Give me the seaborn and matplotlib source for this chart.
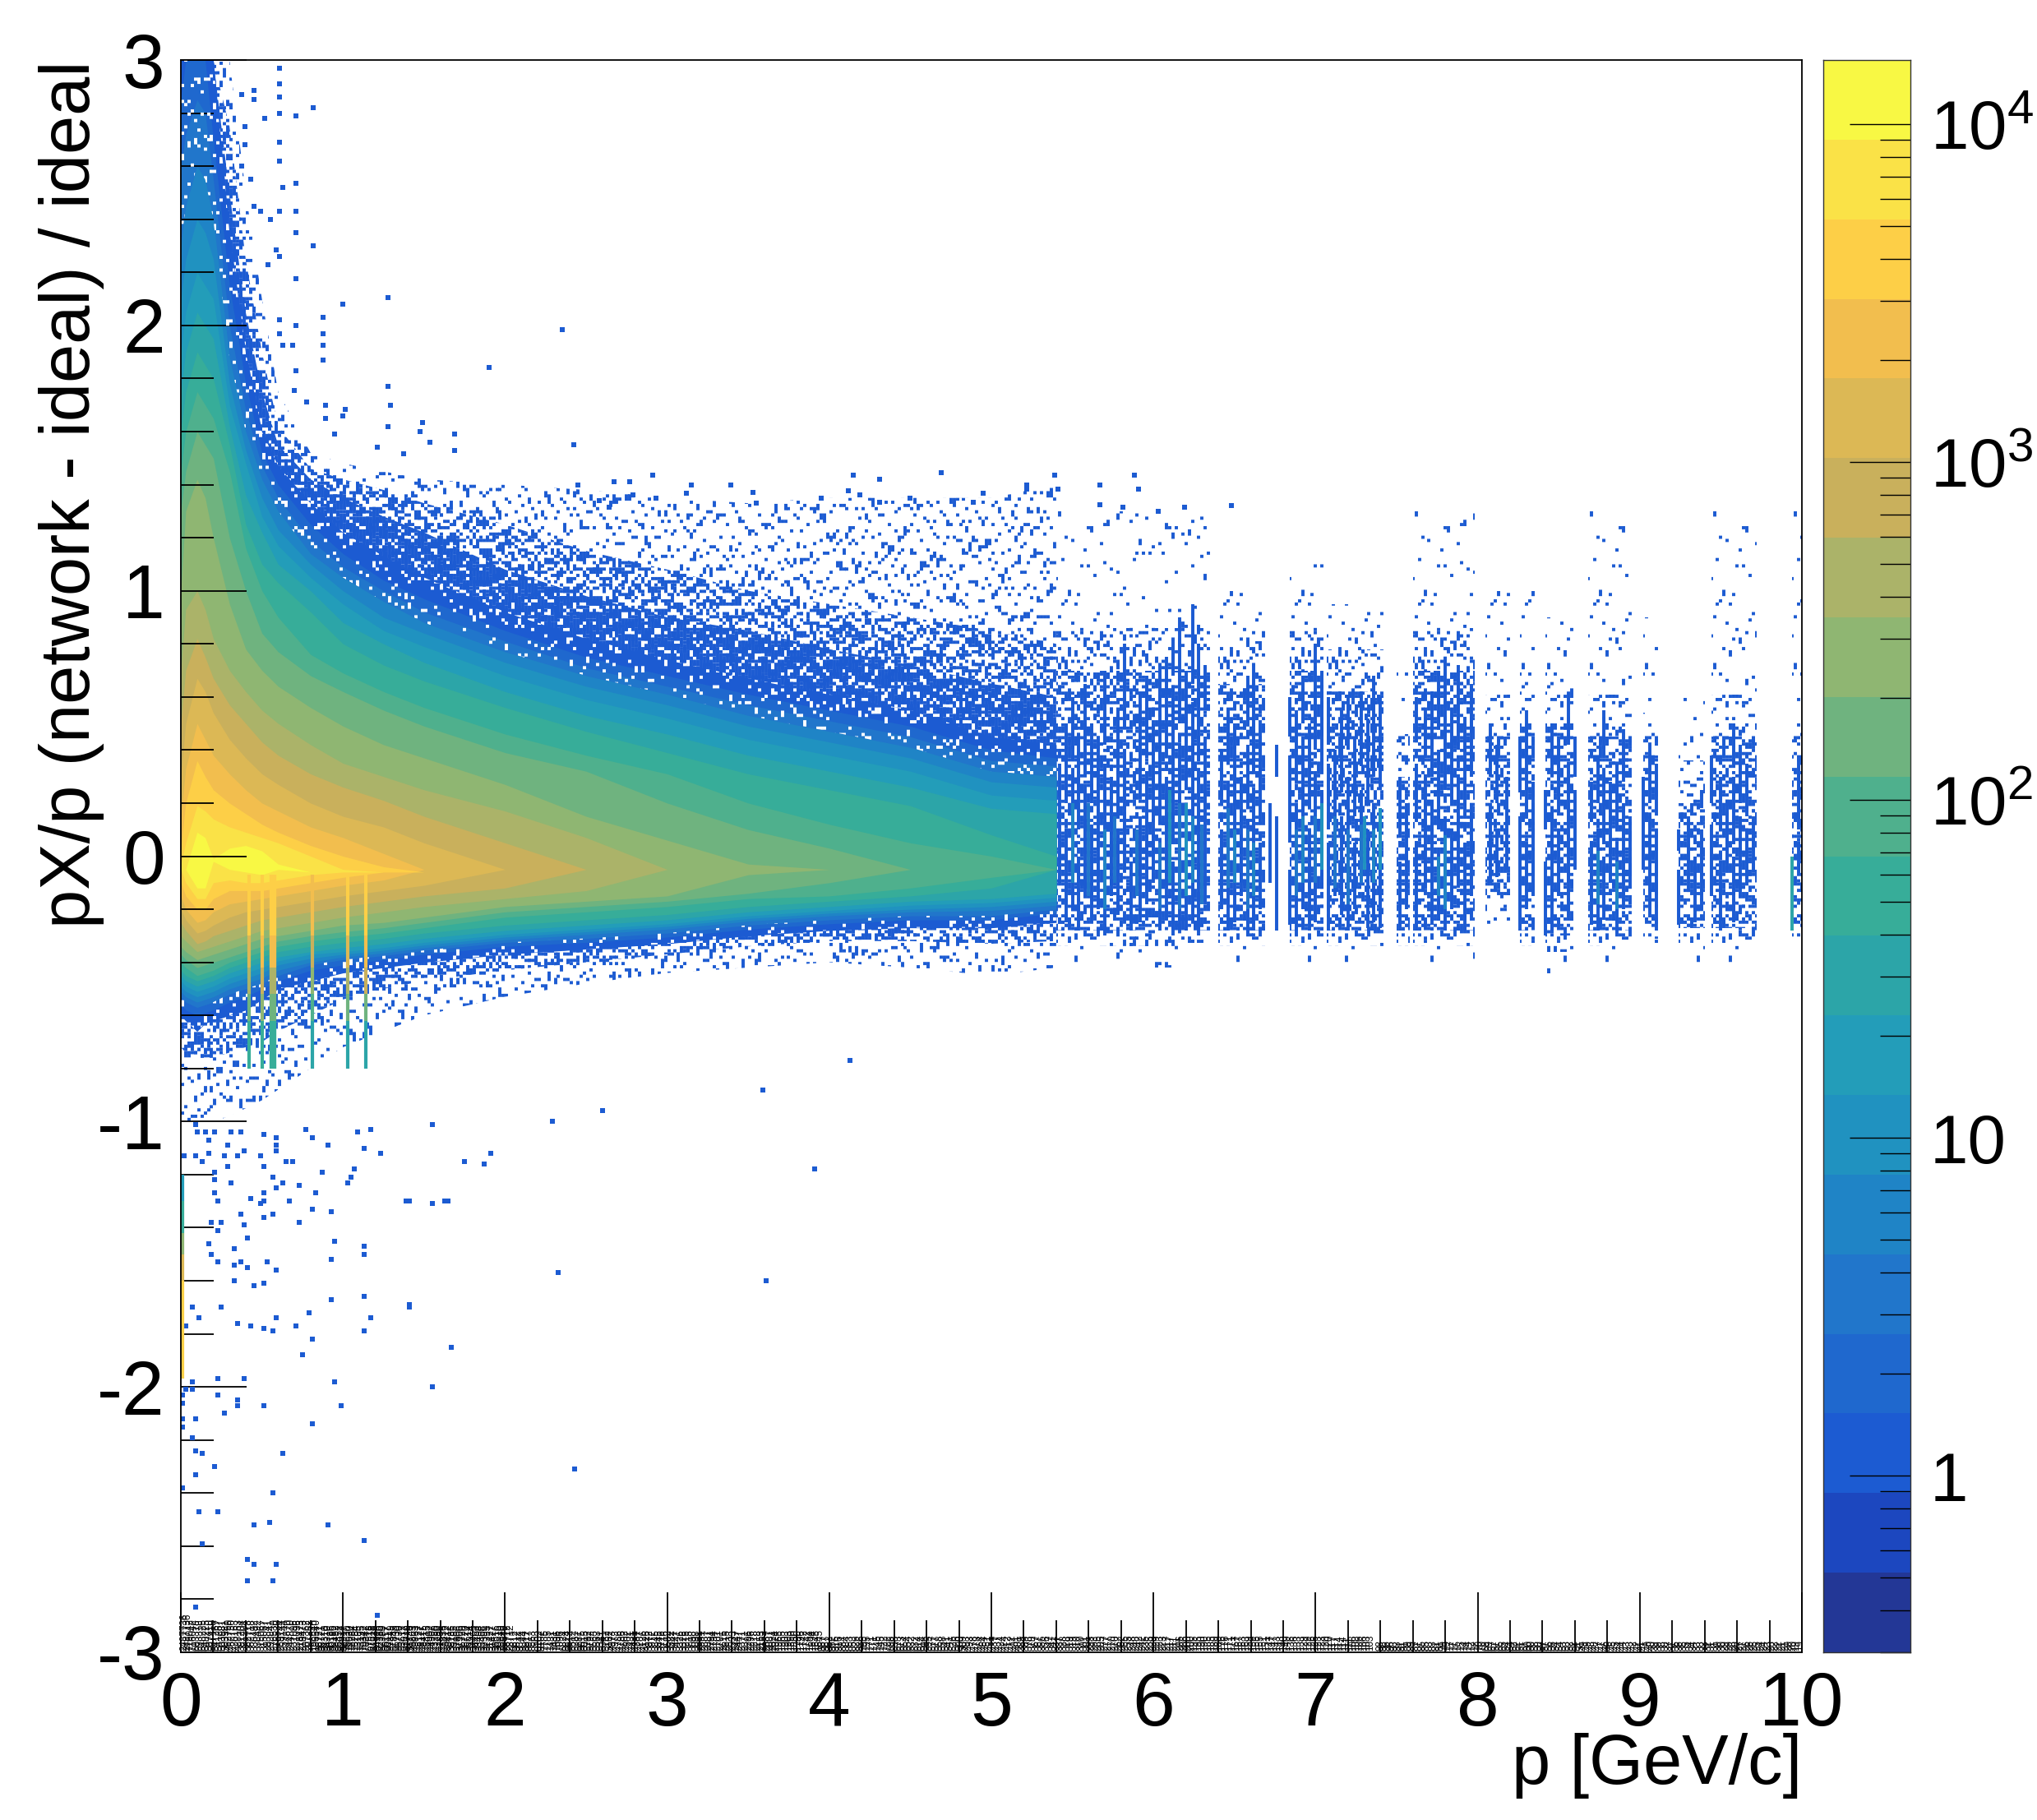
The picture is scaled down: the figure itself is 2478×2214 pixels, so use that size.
import numpy as np
import seaborn as sns
import matplotlib
matplotlib.use("Agg")
import matplotlib.pyplot as plt
from matplotlib.colors import ListedColormap

sns.set_theme(style="white")
plt.rcParams['font.family'] = ['Liberation Sans', 'DejaVu Sans']
plt.rcParams['mathtext.fontset'] = 'custom'
plt.rcParams['mathtext.rm'] = 'Liberation Sans'
plt.rcParams['lines.scale_dashes'] = False

band_colors = ['#233796', '#1C47BF', '#1C5BD2', '#1F68CE', '#2176CB', '#1F84C6', '#2092C0', '#239DB9', '#2CA5A8',
               '#37AD99', '#4FB08D', '#6FB37F', '#8FB672', '#ABB369', '#C9B05C', '#DCB855', '#F2BE4E', '#FDCF47',
               '#FAE247', '#F8F844']
palette = sns.color_palette(band_colors)

p_knots = [0, .03, .1, .15, .2, .3, .4, .5, .6, .8, 1, 1.25, 1.5, 2, 2.5, 3, 3.5, 4, 4.5, 5, 5.4]

# thinning fringe around the solid region, from dense to sparse
fringe_top_1 = [3, 3, 3, 3, 3, 2.5, 2.05, 1.75, 1.55, 1.42, 1.35, 1.28, 1.22, 1.08, .98, .9, .85, .78, .72, .65, .6]
fringe_top_2 = [3, 3, 3, 3, 3, 2.75, 2.25, 1.9, 1.62, 1.46, 1.42, 1.38, 1.33, 1.25, 1.15, 1.08, 1.0, .95, .9, .85, .8]
fringe_top_3 = [3, 3, 3, 3, 3, 3, 2.5, 2.1, 1.75, 1.52, 1.48, 1.45, 1.42, 1.4, 1.38, 1.35, 1.33, 1.35, 1.35, 1.35, 1.4]
fringe_low_1 = [-.72, -.74, -.76, -.76, -.76, -.74, -.72, -.7, -.66, -.6, -.54, -.5, -.47, -.43, -.4, -.37, -.34, -.32, -.32, -.33, -.32]
fringe_low_2 = [-1.0, -1.0, -1.0, -1.0, -1.0, -.98, -.95, -.92, -.88, -.8, -.72, -.66, -.6, -.53, -.48, -.44, -.42, -.4, -.42, -.45, -.42]

# clusters of sparsely filled columns at high p
cluster_from = [5.4, 6.4, 6.84, 7.07, 7.5, 7.6, 8.05, 8.26, 8.42, 8.68, 9.02, 9.24, 9.44, 9.94]
cluster_to = [6.35, 6.7, 7.05, 7.43, 7.58, 7.98, 8.2, 8.36, 8.6, 8.95, 9.12, 9.4, 9.72, 10]
cluster_hi = [.7, .65, .7, .62, .3, .7, .45, .5, .5, .45, .38, .2, .45, .35]
cluster_lo = [-.28, -.28, -.28, -.28, -.28, -.28, -.15, -.28, -.3, -.28, -.25, -.27, -.27, -.25]
cluster_far_hi = [1.3, 1.0, 1.1, .95, .7, 1.3, 1.0, 1.0, .9, 1.3, .9, .6, 1.3, 1.3]

top_b2 = [3, 3, 3, 3, 3, 2.35, 1.9, 1.6, 1.47, 1.33, 1.22, 1.13, 1.05, .92, .82, .74, .67, .61, .55, .45, .42]
low_b2 = [-.6, -.62, -.66, -.63, -.62, -.6, -.58, -.54, -.5, -.47, -.44, -.42, -.4, -.37, -.35, -.33, -.3, -.28, -.27, -.27, -.25]
top_b3 = [2.85, 3, 3, 3, 2.7, 2.15, 1.78, 1.52, 1.4, 1.25, 1.14, 1.04, .97, .85, .75, .68, .61, .55, .49, .4, .37]
low_b3 = [-.56, -.58, -.6, -.59, -.58, -.55, -.53, -.5, -.47, -.43, -.41, -.39, -.37, -.34, -.325, -.305, -.275, -.255, -.24, -.24, -.215]
top_b4 = [2.6, 2.72, 2.85, 2.8, 2.55, 2.0, 1.68, 1.47, 1.35, 1.19, 1.09, 1.0, .92, .81, .71, .64, .57, .51, .45, .36, .34]
low_b4 = [-.53, -.55, -.57, -.56, -.55, -.52, -.5, -.48, -.45, -.41, -.39, -.375, -.355, -.325, -.31, -.29, -.26, -.24, -.225, -.225, -.2]
top_b5 = [2.3, 2.45, 2.6, 2.55, 2.4, 1.88, 1.6, 1.42, 1.3, 1.14, 1.05, .96, .88, .77, .68, .61, .53, .47, .41, .32, .3]
low_b5 = [-.51, -.53, -.55, -.54, -.53, -.5, -.48, -.46, -.43, -.4, -.38, -.365, -.345, -.315, -.295, -.275, -.245, -.225, -.21, -.205, -.185]
top_b6 = [2.1, 2.25, 2.4, 2.35, 2.25, 1.78, 1.53, 1.35, 1.23, 1.1, 1.0, .9, .84, .73, .64, .57, .49, .43, .37, .28, .26]
low_b6 = [-.49, -.51, -.53, -.52, -.51, -.48, -.46, -.44, -.41, -.385, -.37, -.355, -.335, -.305, -.285, -.265, -.235, -.215, -.2, -.19, -.17]
top_b7 = [1.9, 2.05, 2.2, 2.15, 2.1, 1.7, 1.48, 1.28, 1.17, 1.05, .95, .85, .79, .68, .59, .52, .44, .38, .32, .23, .21]
low_b7 = [-.47, -.49, -.51, -.5, -.49, -.46, -.44, -.42, -.395, -.37, -.36, -.345, -.325, -.295, -.275, -.255, -.225, -.205, -.185, -.175, -.155]
top_b8 = [1.75, 1.9, 2.05, 2.0, 1.95, 1.62, 1.36, 1.22, 1.1, 1.0, .88, .8, .73, .62, .53, .46, .38, .32, .26, .18, .16]
low_b8 = [-.45, -.47, -.49, -.48, -.47, -.44, -.42, -.4, -.38, -.36, -.345, -.33, -.31, -.28, -.26, -.24, -.21, -.19, -.17, -.16, -.14]
top_b9 = [1.6, 1.75, 1.9, 1.85, 1.8, 1.55, 1.25, 1.1, 1.03, .92, .8, .72, .66, .56, .47, .39, .31, .25, .19, .08, .0]
low_b9 = [-.43, -.45, -.47, -.46, -.45, -.42, -.4, -.38, -.36, -.34, -.325, -.31, -.29, -.26, -.24, -.22, -.19, -.17, -.15, -.12, -.05]
top_b10 = [1.45, 1.6, 1.75, 1.7, 1.65, 1.45, 1.16, 1.0, .9, .76, .69, .62, .56, .46, .38, .31, .2, .12, .05, .0, -.05]
low_b10 = [-.4, -.42, -.45, -.44, -.43, -.4, -.38, -.36, -.34, -.32, -.305, -.29, -.27, -.23, -.21, -.19, -.16, -.15, -.12, -.08, -.05]
top_b11 = [1.3, 1.45, 1.6, 1.55, 1.5, 1.2, 1.0, .84, .77, .68, .62, .55, .49, .39, .32, .2, .1, .03, -.05, -.05, -.05]
low_b11 = [-.37, -.39, -.42, -.41, -.4, -.38, -.36, -.34, -.32, -.3, -.285, -.27, -.25, -.21, -.19, -.17, -.14, -.1, -.05, -.05, -.05]
top_b12 = [1.0, 1.3, 1.42, 1.35, 1.2, .95, .78, .7, .64, .56, .49, .42, .37, .27, .15, .06, -.03, -.05, -.05, -.05, -.05]
low_b12 = [-.34, -.36, -.39, -.38, -.37, -.35, -.33, -.31, -.3, -.28, -.26, -.25, -.23, -.19, -.17, -.15, -.07, -.05, -.05, -.05, -.05]
top_b13 = [.7, .93, 1.0, .93, .82, .7, .62, .55, .5, .42, .35, .3, .25, .17, .07, -.05, -.05, -.05, -.05, -.05, -.05]
low_b13 = [-.3, -.32, -.36, -.35, -.34, -.32, -.3, -.28, -.27, -.25, -.23, -.21, -.19, -.16, -.13, -.05, -.05, -.05, -.05, -.05, -.05]
top_b14 = [.5, .7, .82, .75, .67, .57, .5, .43, .38, .31, .26, .21, .15, .05, -.05, -.05, -.05, -.05, -.05, -.05, -.05]
low_b14 = [-.25, -.28, -.33, -.32, -.3, -.28, -.26, -.24, -.23, -.21, -.19, -.17, -.15, -.12, -.05, -.05, -.05, -.05, -.05, -.05, -.05]
top_b15 = [.3, .5, .67, .62, .54, .44, .37, .31, .27, .2, .15, .11, .05, -.05, -.05, -.05, -.05, -.05, -.05, -.05, -.05]
low_b15 = [-.2, -.24, -.29, -.28, -.26, -.23, -.21, -.2, -.19, -.17, -.15, -.13, -.11, -.05, -.05, -.05, -.05, -.05, -.05, -.05, -.05]
top_b16 = [.15, .33, .5, .44, .38, .31, .25, .2, .17, .11, .07, .01, -.05, -.05, -.05, -.05, -.05, -.05, -.05, -.05, -.05]
low_b16 = [-.15, -.2, -.25, -.24, -.21, -.18, -.17, -.16, -.15, -.13, -.11, -.09, -.05, -.05, -.05, -.05, -.05, -.05, -.05, -.05, -.05]
top_b17 = [.03, .2, .36, .3, .25, .2, .16, .12, .09, .04, .0, -.04, -.06, -.06, -.06, -.06, -.06, -.06, -.06, -.06, -.06]
low_b17 = [-.1, -.15, -.2, -.2, -.16, -.13, -.13, -.13, -.12, -.1, -.08, -.06, -.06, -.06, -.06, -.06, -.06, -.06, -.06, -.06, -.06]
top_b18 = [-.03, .05, .19, .17, .14, .11, .09, .07, .05, .0, -.05, -.06, -.06, -.06, -.06, -.06, -.06, -.06, -.06, -.06, -.06]
low_b18 = [-.05, -.1, -.16, -.16, -.1, -.09, -.1, -.1, -.09, -.07, -.06, -.06, -.06, -.06, -.06, -.06, -.06, -.06, -.06, -.06, -.06]
top_b19 = [-.05, -.05, .09, .07, -.01, .03, .04, .02, -.03, -.06, -.06, -.06, -.06, -.06, -.06, -.06, -.06, -.06, -.06, -.06, -.06]
low_b19 = [-.05, -.05, -.12, -.12, -.02, -.05, -.06, -.07, -.05, -.06, -.06, -.06, -.06, -.06, -.06, -.06, -.06, -.06, -.06, -.06, -.06]

band_tops = [top_b2, top_b3, top_b4, top_b5, top_b6, top_b7, top_b8, top_b9, top_b10, top_b11, top_b12, top_b13,
             top_b14, top_b15, top_b16, top_b17, top_b18, top_b19]
band_lows = [low_b2, low_b3, low_b4, low_b5, low_b6, low_b7, low_b8, low_b9, low_b10, low_b11, low_b12, low_b13,
             low_b14, low_b15, low_b16, low_b17, low_b18, low_b19]

# isolated single-count cells
single_p = [.61, .61, .45, .375, .45, .61, .815, .61, .71, .515, .395, .61, .395, .61, .71, .63, .43, .375, .45, .61, .71, .49, .555, .71,
            .815, .59, .61, .535, .71, 1.28, 1.0, .875, .61, .71, 2.355, .875, .61, .875, .69, .63, .875, 1.9, .71, 1.28, .7, .775,
            .895, 1.295, 1.015, 1.0, .895, 1.49, 1.28, 1.475, 1.69, .95, 1.535, 2.425, 1.21, 1.69, 1.375,
            2.67, 2.91, 2.77, 3.15, 3.39, 4.15, 4.31, 4.69, 5.22, 5.39, 5.88, 5.67, 2.45, 2.58, 2.64, 2.79, 2.93, 3.12, 3.53, 3.55, 3.95,
            4.12, 4.19, 4.31, 4.5, 4.95, 4.89, 5.22, 5.41, 5.67, 5.91, 6.19, 5.81, 6.03, 6.48]
single_y = [2.97, 2.91, 2.885, 2.87, 2.85, 2.86, 2.82, 2.8, 2.79, 2.78, 2.75, 2.69, 2.68, 2.62, 2.535, 2.52, 2.55, 2.6, 2.45, 2.43, 2.43, 2.43, 2.4, 2.35,
            2.3, 2.285, 2.26, 2.23, 2.175, 2.105, 2.08, 2.03, 2.02, 2.0, 1.985, 1.97, 1.97, 1.925, 1.925, 1.925, 1.87, 1.84, 1.83, 1.77, 1.755, 1.71,
            1.7, 1.7, 1.685, 1.66, 1.65, 1.635, 1.62, 1.6, 1.59, 1.59, 1.56, 1.55, 1.54, 1.53, 1.515,
            1.41, 1.436, 1.41, 1.4, 1.4, 1.436, 1.42, 1.446, 1.4, 1.436, 1.436, 1.4, 1.4, 1.34, 1.315, 1.36, 1.35, 1.367, 1.37, 1.33, 1.35,
            1.377, 1.36, 1.335, 1.35, 1.367, 1.335, 1.384, 1.384, 1.325, 1.384, 1.315, 1.315, 1.3, 1.32]
low_single_p = [.09, .10, .15, .21, .31, .37, .51, .59, .77, .81, .91, 1.13, 1.23, 1.09, 1.17, 1.55, .17, .29, .59, .59, .39, .17, .02, .09, .13, .27, .35, .49,
                .65, .69, .29, .51, 1.75, 1.87, 1.91, 1.07, .87, 1.05, .57, .21, .21, .31, .63, 1.03, .59, .73, .83, .51, .21, .43, .23, .51, .49, .67,
                1.39, 1.55, 1.63, .81, .93, .37, .57, .51, .73, .25, .19, .39, .23, .41, .95, .17, .33, 1.13, 1.13, .19, .93, .23, .37, .53, .33, .41, .59,
                .33, .51, .45, 1.13, .93, .07, .25, 1.41, .79, .11, .59, 1.17, .35, .03, .43, .71, .51, .57, 1.13, .81, 1.67, .75, .23, .39, .07, .95,
                1.55, .03, .07, .01, .23, .35, .35, .51, .99, .01, .27, .01, .09, .81, .01, .07, .09, .13, .63, .21, .09, .01, .57, .11, .23, .45, .55,
                .91, 1.13, .13, .41, .45, .59, .41, .57, .09, 1.21, 2.33, 3.61, 2.43, 3.91, 3.59, 2.6, 4.13, 2.29, 1.41, 1.65, 1.55, 1.67, 1.41]
low_single_y = [-1.01, -1.04, -1.04, -1.04, -1.04, -1.04, -1.05, -1.06, -1.03, -1.06, -1.09, -1.10, -1.12, -1.04, -1.03, -1.01, -1.07, -1.09, -1.09, -1.11, -1.11, -1.12, -1.13, -1.13, -1.15, -1.13, -1.13, -1.13,
                -1.15, -1.15, -1.17, -1.17, -1.15, -1.16, -1.12, -1.18, -1.19, -1.21, -1.21, -1.19, -1.22, -1.23, -1.23, -1.23, -1.25, -1.24, -1.27, -1.27, -1.27, -1.29, -1.30, -1.30, -1.31, -1.30,
                -1.30, -1.31, -1.30, -1.33, -1.34, -1.35, -1.35, -1.36, -1.38, -1.38, -1.38, -1.39, -1.41, -1.44, -1.45, -1.46, -1.48, -1.47, -1.50, -1.50, -1.52, -1.53, -1.53, -1.53, -1.54, -1.55, -1.56,
                -1.60, -1.61, -1.62, -1.66, -1.67, -1.70, -1.70, -1.70, -1.72, -1.74, -1.74, -1.74, -1.76, -1.77, -1.77, -1.77, -1.78, -1.79, -1.79, -1.82, -1.85, -1.88, -1.97, -1.97, -1.98, -1.98,
                -2.0, -2.01, -2.01, -2.03, -2.03, -2.05, -2.07, -2.07, -2.07, -2.06, -2.10, -2.12, -2.12, -2.14, -2.15, -2.19, -2.24, -2.25, -2.25, -2.30, -2.33, -2.38, -2.40, -2.47, -2.47, -2.52, -2.51,
                -2.52, -2.58, -2.59, -2.65, -2.67, -2.67, -2.73, -2.73, -2.83, -2.86, -1.57, -1.6, -2.31, -1.18, -.88, -.96, -.77, -1.0, -1.3, -1.3, -2.0, -1.85, -1.69]

# the broken vertical columns at high p
strip_p = [5.42, 5.46, 5.46, 5.5, 5.5, 5.54, 5.54, 5.58, 5.58, 5.62, 5.62, 5.66, 5.7, 5.7, 5.7, 5.74, 5.78, 5.78, 5.82, 5.82, 5.86, 5.92, 5.92,
           5.96, 5.96, 6.0, 6.04, 6.04, 6.08, 6.08, 6.12, 6.12, 6.12, 6.16, 6.16, 6.2, 6.2, 6.24, 6.24, 6.24, 6.28, 6.28, 6.32, 6.32,
           6.42, 6.42, 6.46, 6.46, 6.5, 6.5, 6.54, 6.58, 6.58, 6.58, 6.62, 6.62, 6.66, 6.66, 6.72, 6.76, 6.76,
           6.84, 6.84, 6.84, 6.88, 6.88, 6.92, 6.92, 6.96, 6.96, 7.0, 7.0, 7.04, 7.04,
           7.08, 7.08, 7.08, 7.12, 7.16, 7.16, 7.2, 7.2, 7.24, 7.24, 7.28, 7.28, 7.32, 7.32, 7.36, 7.36, 7.4, 7.4,
           7.52, 7.52, 7.56, 7.62, 7.62, 7.62, 7.68, 7.68, 7.72, 7.72, 7.76, 7.76, 7.76, 7.8, 7.8, 7.84, 7.84, 7.88, 7.88, 7.92, 7.92, 7.96, 7.96,
           8.08, 8.08, 8.12, 8.12, 8.18, 8.26, 8.26, 8.3, 8.3, 8.34, 8.42, 8.42, 8.46, 8.46, 8.5, 8.5, 8.56, 8.56, 8.6, 8.6,
           8.7, 8.7, 8.74, 8.74, 8.78, 8.78, 8.78, 8.82, 8.86, 8.86, 8.9, 8.9, 8.94, 9.02, 9.06, 9.06, 9.1, 9.1,
           9.24, 9.24, 9.3, 9.34, 9.38, 9.38, 9.44, 9.44, 9.5, 9.5, 9.54, 9.58, 9.58, 9.58, 9.62, 9.62, 9.66, 9.66, 9.7, 9.98, 9.98]
strip_lo = [-.1, -.25, .2, -.2, .36, -.28, .1, -.15, .3, -.25, .2, -.2, -.3, .05, .42, -.15, -.22, .15, -.05, .48, -.28, -.25, .22,
            -.18, .4, -.1, -.28, .12, -.24, .38, -.3, .08, .68, -.26, .5, -.28, .25, -.22, .12, .65, -.3, .36, -.18, .55,
            -.2, .2, -.28, .35, -.25, .1, -.15, -.3, .18, .5, -.28, .32, -.2, .12, -.1, -.28, .3,
            -.26, .05, .45, -.3, .28, -.2, .5, -.28, .18, -.25, .4, -.12, .32,
            -.28, .1, .42, -.15, -.22, .24, -.28, .4, -.2, .15, -.1, .34, -.27, .2, -.25, .3, -.27, .25,
            -.28, .08, -.2, -.28, .15, .45, -.12, .4, -.26, .3, -.22, .1, .48, -.28, .25, -.2, .2, -.12, .4, -.28, .14, -.15, .3,
            -.1, .3, -.08, .2, -.05, -.28, .24, -.2, .15, -.15, -.3, .1, -.28, .3, -.15, .2, -.22, .42, -.05, .3,
            -.26, .15, -.28, .2, -.24, .08, .38, -.1, -.28, .12, -.2, .28, -.12, -.05, -.22, .2, -.28, .2,
            -.26, .02, -.1, -.25, -.2, .18, -.15, .2, -.28, .1, -.05, -.25, .05, .35, -.15, .2, -.1, .15, -.06, -.05, .1]
strip_hi = [.35, .1, .5, .3, .6, .0, .45, .25, .65, .12, .5, .42, -.05, .35, .7, .3, .1, .55, .4, .8, -.02, .15, .6,
            .32, .68, .5, .05, .72, .3, .75, -.02, .62, .82, .42, .9, .18, .7, .05, .58, .95, .3, .8, .45, .72,
            .1, .4, .28, .55, .0, .5, .3, .1, .42, .68, .25, .72, .05, .5, .2, .15, .42,
            -.05, .38, .6, .2, .55, .4, .68, .1, .5, .32, .8, .25, .7,
            .05, .35, .6, .4, .15, .55, .3, .6, .05, .45, .25, .62, .1, .52, .2, .68, .18, .6,
            -.02, .3, .2, .05, .35, .6, .3, .55, .2, .62, .0, .4, .7, .15, .75, .1, .55, .3, .72, .05, .52, .2, .65,
            .2, .5, .1, .42, .3, .15, .45, .05, .55, .28, -.02, .25, .18, .5, .1, .42, .35, .6, .25, .45,
            .05, .28, .1, .38, .0, .3, .55, .28, .05, .35, .2, .48, .15, .3, .15, .42, .1, .35,
            -.05, .1, .15, .0, .1, .25, .12, .38, -.02, .3, .2, .0, .3, .5, .15, .42, .1, .35, .15, .05, .38]
core_p = [5.5, 5.7, 6.1, 6.2, 6.24, 6.5, 6.62, 6.92, 7.04, 7.3, 7.36, 7.4, 7.76, 7.8, 8.74, 8.86, 9.94, 5.6, 5.76, 5.9, 6.04, 6.16, 6.3, 6.46, 6.58, 6.88, 7.0, 7.12, 7.2, 7.28]
core_lo = [-.1, -.2, -.1, -.15, -.1, -.1, -.15, -.1, -.05, -.05, -.1, -.05, -.15, -.2, -.18, -.2, -.28, -.15, -.1, -.15, -.2, -.2, -.18, -.12, -.2, -.15, -.1, -.12, -.18, -.1]
core_hi = [.2, .1, .25, .2, .15, .1, .05, .15, .2, .15, .1, .18, .0, .08, .02, -.02, .0, .2, .15, .1, .05, .2, .12, .18, .1, .1, .15, .15, .1, .12]
core_band = [5, 5, 6, 6, 5, 5, 5, 5, 6, 6, 5, 6, 5, 5, 5, 5, 8, 4, 4, 4, 4, 4, 4, 4, 4, 4, 4, 4, 4, 4]

# overfull single columns below the ridge: x, y breakpoints, colour band of each piece
spike_p = [.42, .50, .57, .81, 1.03, 1.14]
spike_w = [1, 1, 2, 1, 1, 1]
spike_edges = [-.07, -.3, -.42, -.52, -.62, -.8]
spike_bands = [[17, 15, 13, 11, 9], [17, 16, 14, 12, 9], [17, 16, 13, 11, 9], [16, 14, 12, 10, 8], [17, 15, 13, 11, 8], [17, 16, 14, 11, 8]]
edge_y = [-1.2, -1.3, -1.42, -1.5, -1.6, -1.97]
edge_bands = [7, 9, 12, 15, 17]

# digits printed in the lowest row of cells
text_6 = "2487736 716042 693318 648225 597410 541267 503981 462750 428163 391204 362718 338492 315067 293841 276530 259144 244870 231096 218473 207362 196540".split()
text_5 = ("98721 94310 90186 86452 82917 79630 76284 73195 70342 67518 64926 62380 60117 57849 55730 53612 51740 49863 48127 46415 44902 43280 41836 "
          "40412 39185 37906 36720 35514 34463 33408 32395 31427 30516 29640 28712").split()
text_4 = ("9812 9344 8917 8563 8102 7785 7431 7096 6824 6512 6287 6015 5792 5563 5341 5162 4973 4786 4602 4431 4287 4126 3972 3845 3716 3582 3447 3326 3215 3098 "
          "2991 2887 2794 2701 2615 2533 2447 2371 2296 2218 2153 2087 2024 1965 1903 1850 1796 1742 1694 1645").split()
text_3 = ("987 952 916 884 853 826 795 771 745 722 698 673 654 632 614 595 577 558 541 526 509 493 478 464 451 437 424 412 401 389 378 367 356 347 337 328 319 310 "
          "301 293 285 277 270 262 255 248 242 235 229 223 217 211 206 200 195 190 185 180 176 171 167 163 159 155 151 147 143 140 136 133 129 126 123 120 117 114 "
          "111 108 106 103").split()
text_2 = "98 96 93 91 89 87 85 83 81 79 77 75 74 72 70 69 67 65 64 62 61 60 58 57 56 54 53 52 51 49 48 47 46 45 44 43 42 41 40 39 38 37 36 35 34 33 32 31 30 29 28 27 26 25 24 23 22 21 20 19".split()

x_ticks = [0, 1, 2, 3, 4, 5, 6, 7, 8, 9, 10]
y_ticks = [-3, -2, -1, 0, 1, 2, 3]
x_title = "p [GeV/c]"
y_title = "pX/p (network - ideal) / ideal"

# line styles for the speckled cells, in units of one cell height
dense = [[3, 1, 2, 1, 5, 2, 1, 1, 4, 1], [2, 1, 4, 2, 1, 1, 6, 1, 2, 2], [5, 1, 1, 2, 3, 1, 2, 1, 3, 3], [1, 1, 3, 1, 7, 2, 2, 1, 4, 1], [4, 2, 2, 1, 1, 1, 5, 1, 3, 2]]
mid = [[1, 2, 2, 1, 1, 3, 1, 1, 3, 2, 1, 3], [2, 3, 1, 1, 1, 4, 3, 2, 1, 2], [1, 1, 1, 3, 2, 2, 1, 4, 2, 1], [3, 2, 1, 3, 1, 1, 2, 4, 1, 2], [1, 3, 2, 2, 1, 2, 4, 3]]
sparse = [[1, 5, 1, 9, 2, 7, 1, 4, 1, 8], [2, 8, 1, 6, 1, 11, 1, 3], [1, 3, 1, 12, 1, 6, 2, 5], [1, 9, 3, 6, 1, 10], [1, 7, 1, 4, 2, 13]]
rare = [[1, 17, 1, 25, 1, 11], [1, 31, 2, 14], [1, 13, 1, 29], [1, 22, 1, 19, 1, 33], [2, 27, 1, 16]]
pits = [[1, 9, 1, 4, 1, 14, 2, 6], [1, 6, 1, 13, 1, 5, 1, 21], [1, 11, 2, 8, 1, 3, 1, 17], [1, 16, 1, 7, 1, 10], [2, 5, 1, 12, 1, 9]]
column_shift = [17, 3, 29, 11, 38, 6, 23, 14, 33, 1, 26, 9, 36, 19, 4, 31, 12, 40, 7, 22, 15, 34, 2, 27, 10, 37, 18, 5, 30, 13, 39, 8, 24, 16, 35, 0, 28, 20, 32, 25, 21]

W, H = 2478, 2214
fig = plt.figure(figsize=(W / 100, H / 100), dpi=100, facecolor='white')
ax = fig.add_axes([220 / W, 1 - 2010 / H, 1972 / W, 1937 / H])
ax.set_xlim(0, 10)
ax.set_ylim(-3, 3)

cell_w = 3.94 * .72
cell_h = 3.87 * .72


def stipple(px, lows, tops, patterns, color, zorder, x0=.01, x1=10.0):
    poly = ax.fill_between(px, lows, tops, facecolor='none', edgecolor='none', linewidth=0)
    cols = np.arange(x0, x1, .02)
    styles = []
    for i in range(len(cols)):
        pat = patterns[i % len(patterns)]
        shift = column_shift[(i * 3) % len(column_shift)] * cell_h
        styles.append((shift, [v * cell_h for v in pat]))
    lc = ax.vlines(cols, -3, 3, colors=[color], linestyles=styles, linewidth=cell_w, capstyle='butt', zorder=zorder)
    lc.set_clip_path(poly.get_paths()[0], poly.get_transform())


stipple(p_knots, fringe_low_2, fringe_top_3, sparse, palette[2], 1.5)
stipple(p_knots, fringe_low_1, fringe_top_2, mid, palette[2], 1.6)
stipple(p_knots, low_b2, fringe_top_1, dense, palette[2], 1.7)
for a0, a1, lo, hi, far in zip(cluster_from, cluster_to, cluster_lo, cluster_hi, cluster_far_hi):
    stipple([a0, a1], [lo - .14, lo - .14], [far, far], rare, palette[2], 1.5, a0, a1)
    stipple([a0, a1], [lo - .06, lo - .06], [hi + .16, hi + .16], sparse, palette[2], 1.6, a0, a1)
    stipple([a0, a1], [lo, lo], [hi, hi], mid, palette[2], 1.7, a0, a1)

for k, (t, l) in enumerate(zip(band_tops, band_lows)):
    ax.fill_between(p_knots, l, t, color=palette[k + 2], linewidth=0, zorder=2 + k * .01)

stipple(p_knots, top_b5, top_b2, pits, 'white', 2.9)
stipple(p_knots, low_b2, low_b4, pits, 'white', 2.9)

ax.vlines(strip_p, strip_lo, strip_hi, color=palette[2], linewidth=cell_w, capstyle='butt', zorder=3.1)
ax.vlines(core_p, core_lo, core_hi, color=[palette[b] for b in core_band], linewidth=cell_w, capstyle='butt', zorder=3.2)
sns.scatterplot(x=single_p, y=single_y, marker='s', s=13, color=palette[2], linewidth=0, ax=ax, zorder=3.3, legend=False)
sns.scatterplot(x=low_single_p, y=low_single_y, marker='s', s=13, color=palette[2], linewidth=0, ax=ax, zorder=3.3, legend=False)
for p, w, bands in zip(spike_p, spike_w, spike_bands):
    for j, b in enumerate(bands):
        ax.vlines(p, spike_edges[j + 1], spike_edges[j], color=palette[b], linewidth=3 * w, capstyle='butt', zorder=3.4)
for j, b in enumerate(edge_bands):
    ax.vlines(.01, edge_y[j + 1], edge_y[j], color=palette[b], linewidth=3, capstyle='butt', zorder=3.4)

ax.set_xticks(x_ticks)
ax.set_xticklabels([str(v) for v in x_ticks], fontsize=67)
ax.set_yticks(y_ticks)
ax.set_yticklabels([str(v) for v in y_ticks], fontsize=67)
ax.set_xticks([i / 5 for i in range(51) if i % 5], minor=True)
ax.set_yticks([i / 5 for i in range(-15, 16) if i % 5], minor=True)
ax.tick_params(axis='x', which='major', direction='in', length=52.5, width=1.3, pad=16, bottom=True, color='black', labelcolor='black')
ax.tick_params(axis='x', which='minor', direction='in', length=28, width=1.3, bottom=True, color='black')
ax.tick_params(axis='y', which='major', direction='in', length=57.6, width=1.3, pad=14, left=True, color='black', labelcolor='black')
ax.tick_params(axis='y', which='minor', direction='in', length=28.8, width=1.3, left=True, color='black')
for s in ax.spines.values():
    s.set_color('black')
    s.set_linewidth(1.3)
    s.set_zorder(6)
ax.set_axisbelow(False)

text_rows = [(text_6, 0.02, .04), (text_5, .86, .034), (text_4, 2.06, .038), (text_3, 3.96, .0425), (text_2, 7.4, .0435)]
for labels, start, step in text_rows:
    for offset in (0, step / 2):
        for i, s in enumerate(labels):
            ax.text(start + offset + i * step, -2.993, s, rotation=90, ha='center', va='bottom', fontsize=8.4, color='black', zorder=5)

fig.text(2192 / W, 1 - 2148 / H, x_title, ha='right', va='center', fontsize=61, color='black')
fig.text(87 / W, 1 - 74 / H, y_title, rotation=90, ha='center', va='top', fontsize=61, color='black')

# colour scale
cax = fig.add_axes([2218 / W, 1 - 2010 / H, 106 / W, 1937 / H])
band_index = [[i] for i in range(19, -1, -1)]
sns.heatmap(band_index, cmap=ListedColormap(band_colors), cbar=False, ax=cax, xticklabels=False, yticklabels=False, vmin=-.5, vmax=19.5)
tax = fig.add_axes([2218 / W, 1 - 2010 / H, 106 / W, 1937 / H], facecolor='none')
tax.set_yscale('log')
tax.set_ylim(.3, 15500)
tax.set_xticks([])
tax.yaxis.tick_right()
tax.set_yticks([1, 10, 100, 1000, 10000])
tax.set_yticklabels(['1', '10', r'$\mathdefault{10^{2}}$', r'$\mathdefault{10^{3}}$', r'$\mathdefault{10^{4}}$'], fontsize=60)
tax.set_yticks([m * 10 ** e for e in range(-1, 5) for m in range(2, 10) if .3 <= m * 10 ** e <= 15500], minor=True)
tax.tick_params(axis='y', which='minor', right=True, direction='in', length=26.5, width=1.0, labelright=False, color='black')
tax.tick_params(axis='y', which='major', right=True, direction='in', length=53, width=1.0, pad=17, color='black', labelcolor='black')
for s in tax.spines.values():
    s.set_color('#333333')
    s.set_linewidth(1.0)

fig.savefig('out.png', dpi=100, facecolor='white')
